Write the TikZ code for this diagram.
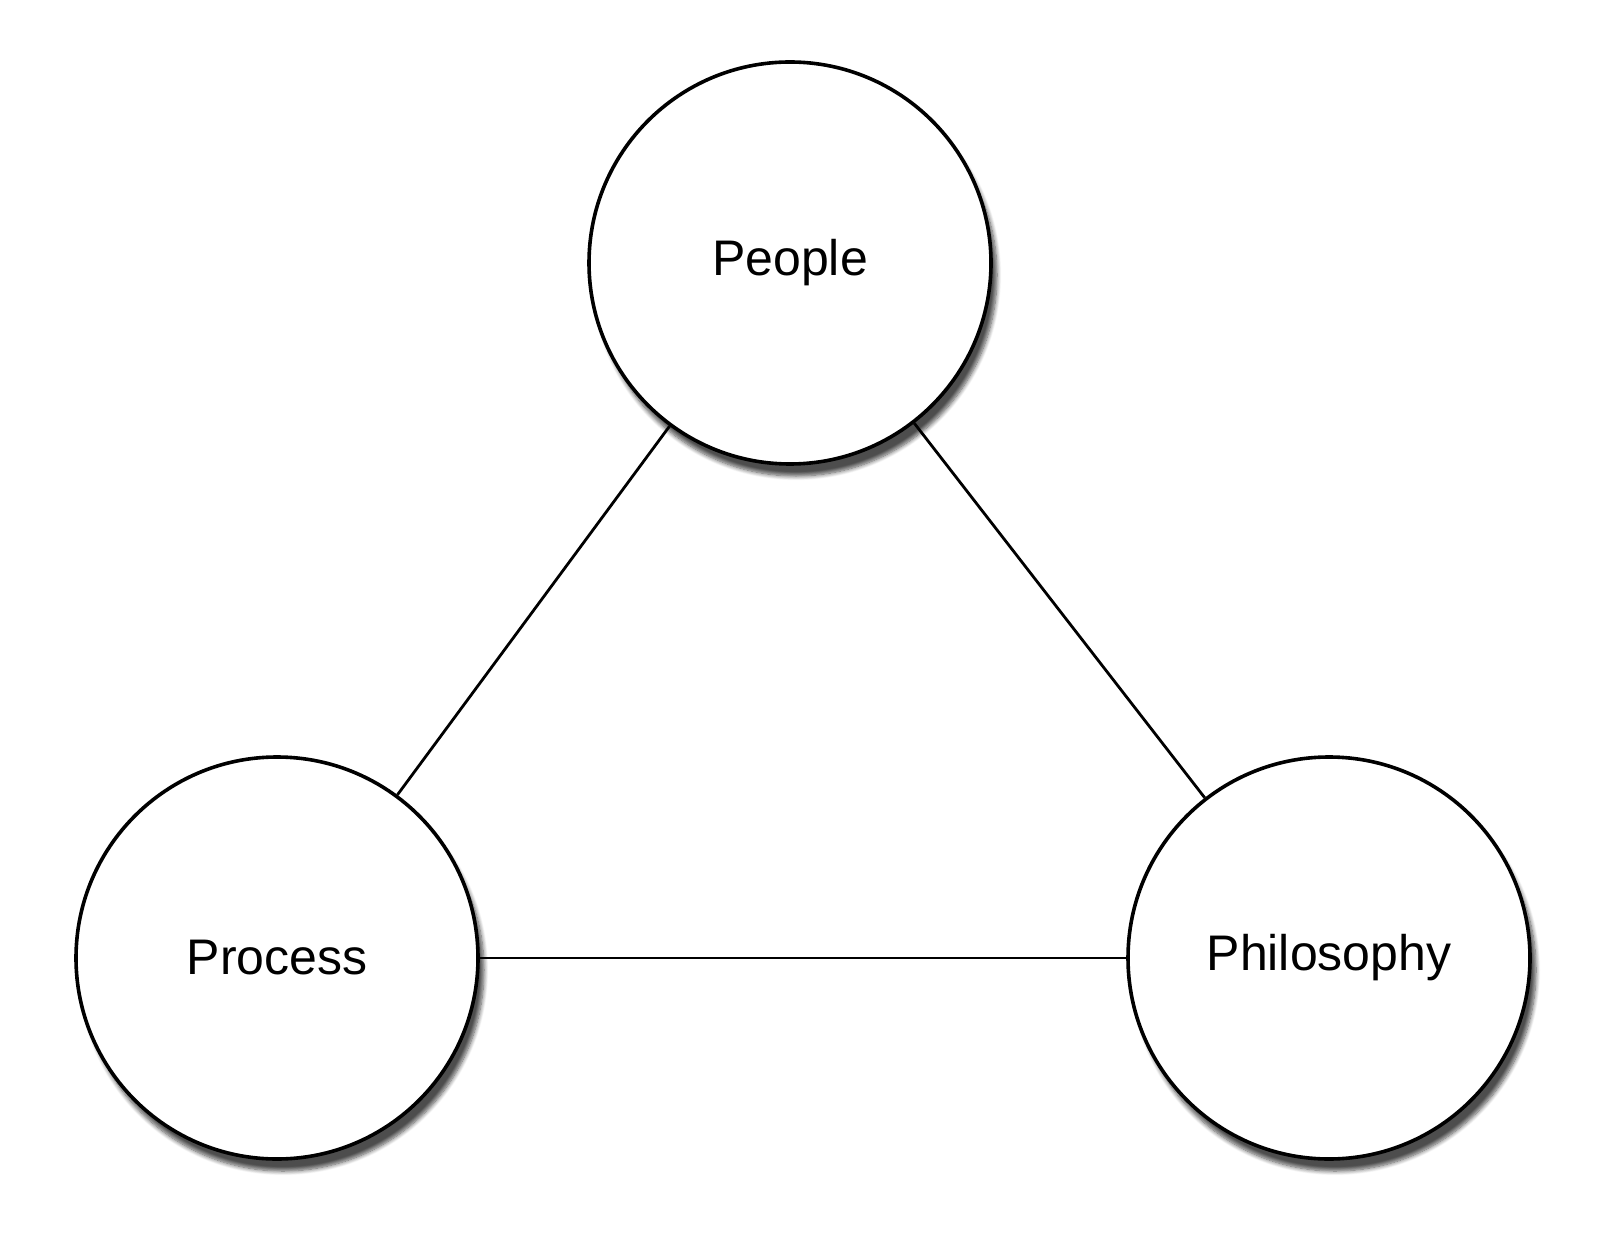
\documentclass[tikz,border=0pt]{standalone}
\usepackage{fontspec}
\setmainfont{Liberation Sans}
\usetikzlibrary{shadows.blur}
\begin{document}
\begin{tikzpicture}[x=0.5pt,y=-0.5pt,
  topic/.style={circle,draw=black,line width=1.8pt,fill=white,minimum size=201pt,inner sep=0pt,
    font=\fontsize{25}{29}\selectfont,
    blur shadow={shadow xshift=3pt,shadow yshift=-6pt,shadow blur steps=8,shadow opacity=70}},
  link/.style={line width=1.4pt}]
\useasboundingbox (0,0) rectangle (1600,1245);
\node[topic] (people) at (790,263) {People};
\node[topic] (process) at (277,958) {Process};
\node[topic] (philo) at (1329,958) {Philosophy};
\draw[link] (people) -- (process);
\draw[link] (people) -- (philo);
\draw[link] (process) -- (philo);
\end{tikzpicture}
\end{document}
